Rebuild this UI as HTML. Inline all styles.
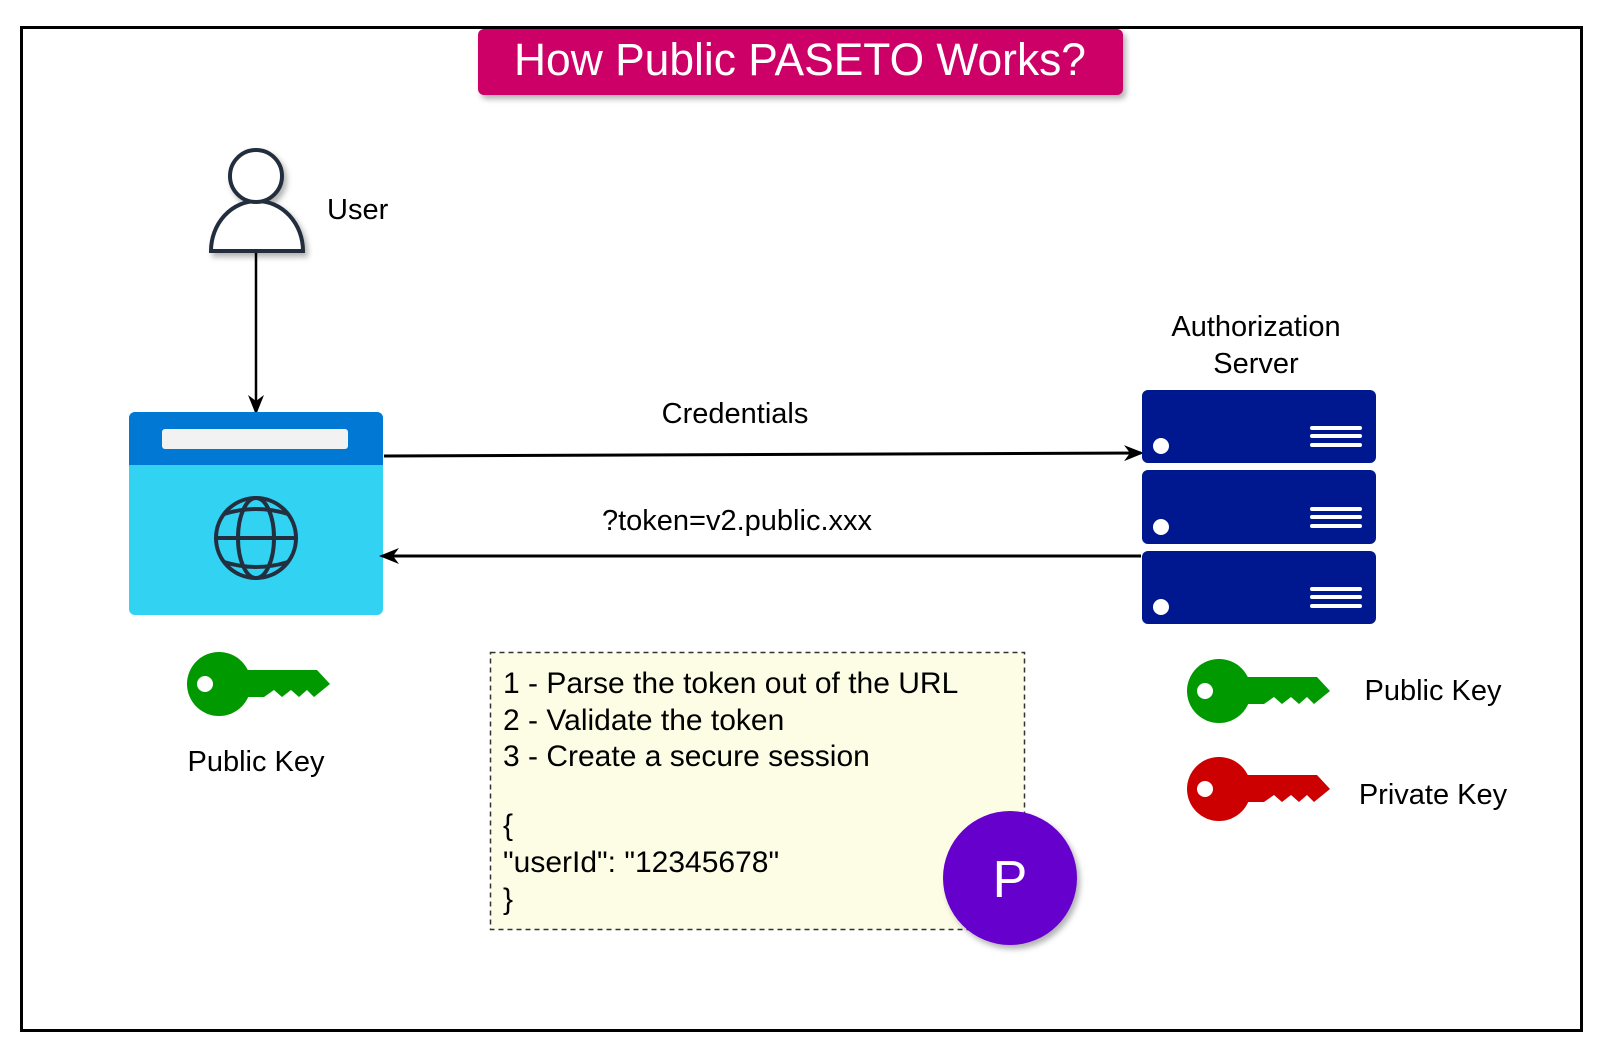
<!DOCTYPE html>
<html><head><meta charset="utf-8"><style>
html,body{margin:0;padding:0;background:#fff;}
svg{display:block;font-family:"Liberation Sans",Arial,sans-serif;}
</style></head><body>
<svg width="1600" height="1051" viewBox="0 0 1600 1051" xmlns="http://www.w3.org/2000/svg">
<defs>
<filter id="sh" x="-20%" y="-20%" width="150%" height="150%"><feDropShadow dx="3" dy="4" stdDeviation="3" flood-color="#000" flood-opacity="0.3"/></filter>
<marker id="ar" markerWidth="20" markerHeight="20" refX="17" refY="10" orient="auto" markerUnits="userSpaceOnUse"><path d="M0,2 L20,10 L0,18 L6,10 Z" fill="#000"/></marker>
<g id="key"><circle cx="0" cy="0" r="32"/><polygon points="25,-14 98,-14 111,0 95,13 88,6 80,13 72,6 63,13 55,6 45,13 25,13"/><circle cx="-14" cy="0" r="8" fill="#fff"/></g>
</defs>
<rect x="21.5" y="27.5" width="1560" height="1003" fill="#fff" stroke="#000" stroke-width="3"/>
<rect x="478" y="29" width="645" height="66" rx="6" fill="#cc0066" filter="url(#sh)"/>
<text x="800" y="75" font-size="45" fill="#fff" text-anchor="middle" textLength="572" lengthAdjust="spacingAndGlyphs">How Public PASETO Works?</text>

<!-- user -->
<g fill="#fff" stroke="#232f3e" stroke-width="4" filter="url(#sh)">
<path d="M211,251 A46,50 0 0 1 303,251 Z"/>
<circle cx="256" cy="176" r="26"/>
</g>
<text x="327" y="219" font-size="29">User</text>
<line x1="256" y1="253" x2="256" y2="412" stroke="#000" stroke-width="2.5" marker-end="url(#ar)"/>

<!-- browser -->
<rect x="129" y="412" width="254" height="203" rx="6" fill="#31d2f2"/>
<path d="M129,465 V418 a6,6 0 0 1 6,-6 H377 a6,6 0 0 1 6,6 V465 Z" fill="#0078d4"/>
<rect x="162" y="429" width="186" height="20" rx="3" fill="#f2f2f2"/>
<g fill="none" stroke="#232f3e" stroke-width="4">
<circle cx="256" cy="538" r="40"/>
<ellipse cx="256" cy="538" rx="18" ry="40"/>
<line x1="216" y1="538" x2="296" y2="538"/>
<path d="M224,514 Q256,504 288,514"/>
<path d="M224,562 Q256,572 288,562"/>
</g>

<!-- arrows -->
<line x1="384" y1="456" x2="1141" y2="453" stroke="#000" stroke-width="3" marker-end="url(#ar)"/>
<text x="735" y="423" font-size="29" text-anchor="middle">Credentials</text>
<line x1="1141" y1="556" x2="382" y2="556" stroke="#000" stroke-width="3" marker-end="url(#ar)"/>
<text x="737" y="530" font-size="29" text-anchor="middle">?token=v2.public.xxx</text>

<!-- server -->
<text x="1256" y="336" font-size="29" text-anchor="middle">Authorization</text>
<text x="1256" y="373" font-size="29" text-anchor="middle">Server</text>
<g fill="#00188f">
<rect x="1142" y="390" width="234" height="73" rx="6"/>
<rect x="1142" y="470" width="234" height="74" rx="6"/>
<rect x="1142" y="551" width="234" height="73" rx="6"/>
</g>
<g fill="#fff">
<circle cx="1161" cy="446" r="8"/><circle cx="1161" cy="527" r="8"/><circle cx="1161" cy="607" r="8"/>
<rect x="1310" y="426" width="52" height="4" rx="2"/><rect x="1310" y="434" width="52" height="4" rx="2"/><rect x="1310" y="443" width="52" height="4" rx="2"/>
<rect x="1310" y="507" width="52" height="4" rx="2"/><rect x="1310" y="515" width="52" height="4" rx="2"/><rect x="1310" y="524" width="52" height="4" rx="2"/>
<rect x="1310" y="587" width="52" height="4" rx="2"/><rect x="1310" y="595" width="52" height="4" rx="2"/><rect x="1310" y="604" width="52" height="4" rx="2"/>
</g>

<!-- keys -->
<use href="#key" x="219" y="684" fill="#009900"/>
<text x="256" y="771" font-size="29" text-anchor="middle">Public Key</text>
<use href="#key" x="1219" y="691" fill="#009900"/>
<text x="1433" y="700" font-size="29" text-anchor="middle">Public Key</text>
<use href="#key" x="1219" y="789" fill="#cc0000"/>
<text x="1433" y="804" font-size="29" text-anchor="middle">Private Key</text>

<!-- text box -->
<rect x="490.5" y="652.5" width="534" height="277" fill="#fdfde6" stroke="#333" stroke-width="1.5" stroke-dasharray="5,4"/>
<g font-size="30">
<text x="503" y="693">1 - Parse the token out of the URL</text>
<text x="503" y="730">2 - Validate the token</text>
<text x="503" y="766">3 - Create a secure session</text>
<text x="503" y="835">{</text>
<text x="503" y="872">"userId": "12345678"</text>
<text x="503" y="909">}</text>
</g>
<circle cx="1010" cy="878" r="67" fill="#6600cc" filter="url(#sh)"/>
<text x="1010" y="897" font-size="52" fill="#fff" text-anchor="middle">P</text>
</svg>
</body></html>
